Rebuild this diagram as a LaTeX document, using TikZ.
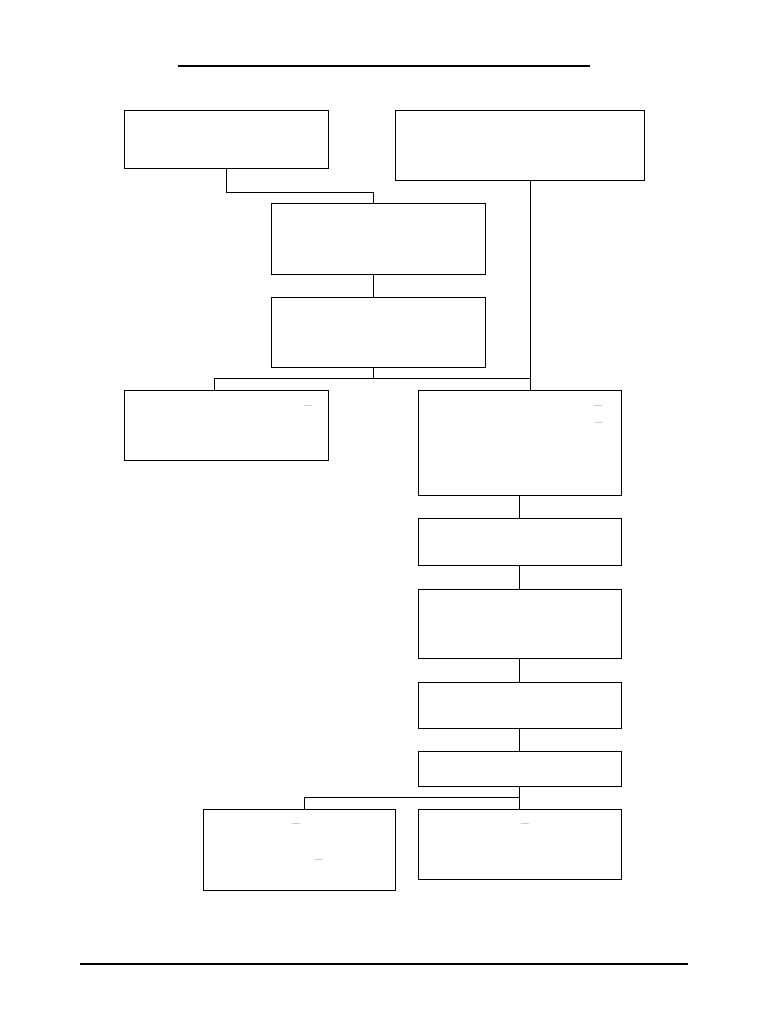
\documentclass[tikz,border=0pt]{standalone}
\usepackage{tikz}
\usetikzlibrary{positioning}
\usetikzlibrary{calc}

\begin{document}
\begin{tikzpicture}[x=1pt,y=-1pt,
  box/.style={draw, line width=1pt, inner sep=0pt, anchor=center},
  dashmark/.style={inner sep=0pt, font=\fontsize{17}{17}\selectfont, text=black!75}]
\useasboundingbox (0,0) rectangle (768,1024);

% rules at top and bottom
\draw[line width=2pt] (178,66) -- (590,66);
\draw[line width=2pt] (80,964) -- (688,964);

% boxes
\node[box, minimum width=204pt, minimum height=58pt] (a) at (226,140) {};
\node[box, minimum width=249pt, minimum height=70pt] (b) at (519.5,146) {};
\node[box, minimum width=214pt, minimum height=70pt] (c) at (378,239) {};
\node[box, minimum width=214pt, minimum height=70pt] (d) at (378,332) {};
\node[box, minimum width=204pt, minimum height=70pt] (e) at (226,425) {};
\node[box, minimum width=203pt, minimum height=105pt] (f) at (519.5,442.5) {};
\node[box, minimum width=203pt, minimum height=47pt] (g) at (519.5,541.5) {};
\node[box, minimum width=203pt, minimum height=69pt] (h) at (519.5,623.5) {};
\node[box, minimum width=203pt, minimum height=46pt] (i) at (519.5,705) {};
\node[box, minimum width=203pt, minimum height=35pt] (j) at (519.5,768.5) {};
\node[box, minimum width=192pt, minimum height=81pt] (k) at (299,849.5) {};
\node[box, minimum width=203pt, minimum height=70pt] (l) at (519.5,844) {};

% small marks inside the boxes
\node[dashmark] (e1) at (308,408) {--};
\node[dashmark] (f1) at (598,408) {--};
\node[dashmark] (f2) at (599,425) {--};
\node[dashmark] (k1) at (296,826) {--};
\node[dashmark] (k2) at (319,862) {--};
\node[dashmark] (l1) at (525,826) {--};

% junctions
\coordinate (j1) at (373,192);
\coordinate (j2) at (373,378);
\coordinate (jl) at (214,378);
\coordinate (jr) at (530,378);
\coordinate (j3) at (519,797);
\coordinate (jk) at (304,797);

% connectors
\draw (a.south) |- (j1) -- (j1 |- c.north);
\draw (c.south -| j1) -- (d.north -| j1);
\draw (d.south -| j1) -- (j2);
\draw (jl |- e.north) -- (jl) -- (jr) -- (jr |- f.north);
\draw (b.south -| jr) -- (jr);
\foreach \u / \v in {f/g, g/h, h/i, i/j}
  \draw (\u.south) -- (\v.north);
\draw (j.south) -- (l.north);
\draw (j3) -- (jk) -- (jk |- k.north);
\end{tikzpicture}
\end{document}
